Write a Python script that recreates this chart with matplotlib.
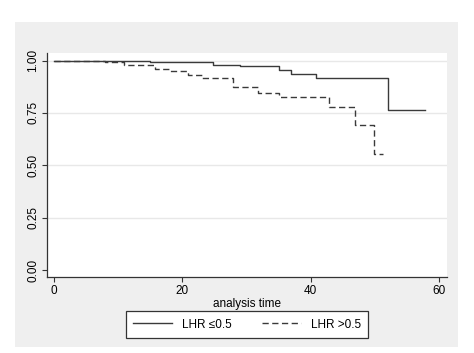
import numpy as np
import matplotlib
matplotlib.use("Agg")
import matplotlib.pyplot as plt
from matplotlib.patches import Rectangle

plt.rcParams['font.family'] = ['Liberation Sans', 'DejaVu Sans']

# Kaplan-Meier step data
t_low = [0, 15.0, 24.8, 29.0, 35.0, 36.9, 40.9, 52.0, 57.8]
s_low = [1.0, 0.993, 0.980, 0.973, 0.957, 0.938, 0.917, 0.765, 0.765]

t_high = [0, 7.9, 10.9, 15.7, 18.0, 20.9, 23.0, 27.9, 31.8, 35.0, 42.9, 46.9, 49.8, 51.3]
s_high = [1.0, 0.993, 0.980, 0.962, 0.950, 0.930, 0.918, 0.872, 0.846, 0.825, 0.777, 0.693, 0.555, 0.555]

labels = ['LHR \u22640.5', 'LHR >0.5']
xticks = [0, 20, 40, 60]
yticks = [0.0, 0.25, 0.5, 0.75, 1.0]

W, H = 474, 353
fig = plt.figure(figsize=(W/100, H/100), dpi=100)
fig.patch.set_facecolor('white')

# grey graph region (Stata style), kept behind the plot axes
bg = Rectangle((15/W, (H-347)/H), (458-15)/W, (347-22)/H,
               transform=fig.transFigure, facecolor='#efefef',
               edgecolor='none', zorder=-10)
fig.patches.append(bg)

ax = fig.add_axes([47/W, (H-277)/H, 400/W, 224/H])
ax.set_zorder(1)
ax.set_facecolor('white')

line_col = '#3a3a3a'
ax.step(t_low, s_low, where='post', color=line_col, lw=1.0, label=labels[0])
ax.step(t_high, s_high, where='post', color=line_col, lw=1.0, dashes=(4.5, 2.5), label=labels[1])

ax.set_xlim(-1.09, 61.24)
ax.set_ylim(-0.033, 1.036)
ax.set_xticks(xticks)
ax.set_yticks(yticks)
ax.set_yticklabels(['%.2f' % v for v in yticks], rotation=90, va='center')
for g in yticks[1:]:
    ax.axhline(g, color='#e8e8e8', lw=1.0, zorder=0)

for s in ['top', 'right']:
    ax.spines[s].set_visible(False)
for s in ['left', 'bottom']:
    ax.spines[s].set_color('#333333')
    ax.spines[s].set_linewidth(0.9)
ax.tick_params(direction='out', length=3.5, width=0.8, color='#333333',
               labelsize=8.5, labelcolor='black', pad=2)
ax.set_xlabel('analysis time', fontsize=8.5, labelpad=1)

leg = fig.legend(loc='center', bbox_to_anchor=(247/W, (H-324.5)/H), ncol=2,
                 fontsize=8.5, handlelength=3.3, handletextpad=0.85,
                 columnspacing=2.6, fancybox=False, edgecolor='#333333',
                 framealpha=1, borderpad=0.6)
leg.get_frame().set_linewidth(0.9)
leg.set_zorder(2)

fig.savefig('out.png', dpi=100, facecolor='white')
